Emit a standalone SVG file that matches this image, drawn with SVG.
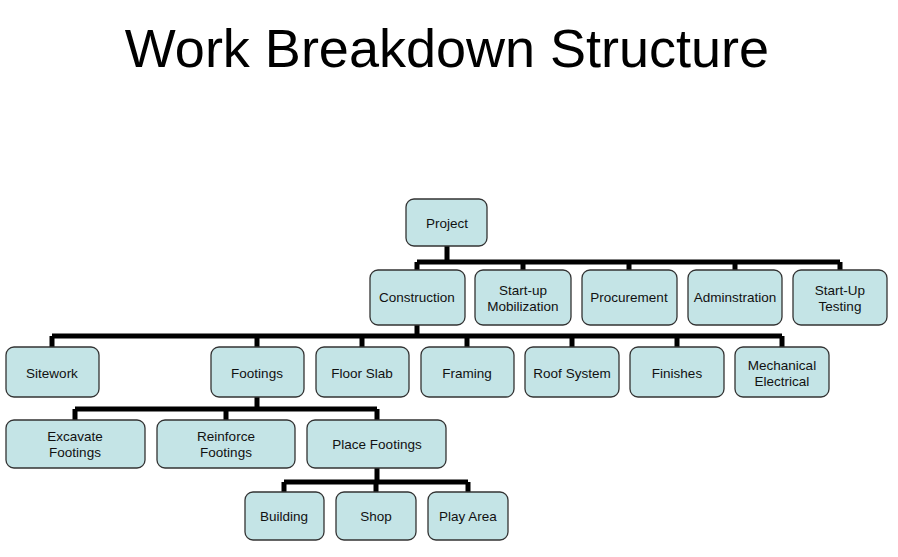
<svg xmlns="http://www.w3.org/2000/svg" width="898" height="557" viewBox="0 0 898 557">
<style>
.n rect{fill:#c4e4e6;stroke:#333;stroke-width:1.3}
.n text{font-family:"Liberation Sans",Arial,sans-serif;font-size:13.5px;fill:#111;text-anchor:middle}
.c{stroke:#000;stroke-width:5;fill:none}
</style>
<rect width="898" height="557" fill="#fff"/>
<text x="447" y="67" font-family="Liberation Sans,Arial,sans-serif" font-size="54" text-anchor="middle" fill="#000">Work Breakdown Structure</text>
<g id="connectors">
<path class="c" d="M447 246V262M417 262H840M417 262V270M523 262V270M629 262V270M735 262V270M840 262V270"/>
<path class="c" d="M417 325V336M52 336H782M52 336V347M257 336V347M362 336V347M467 336V347M572 336V347M677 336V347M782 336V347"/>
<path class="c" d="M257 397V409M75 409H377M75 409V420M226 409V420M377 409V420"/>
<path class="c" d="M377 468V482M284 482H468M284 482V492M376 482V492M468 482V492"/>
</g>
<g id="project" class="n"><rect x="406" y="199" width="81" height="47" rx="8"/><text x="447" y="228">Project</text></g>
<g id="construction" class="n"><rect x="370" y="270" width="95" height="55" rx="8"/><text x="417" y="302">Construction</text></g>
<g id="startup" class="n"><rect x="475" y="270" width="96" height="55" rx="8"/><text x="523" y="295">Start-up</text><text x="523" y="311">Mobilization</text></g>
<g id="procurement" class="n"><rect x="582" y="270" width="95" height="55" rx="8"/><text x="629" y="302">Procurement</text></g>
<g id="admin" class="n"><rect x="688" y="270" width="94" height="55" rx="8"/><text x="735" y="302">Adminstration</text></g>
<g id="testing" class="n"><rect x="793" y="270" width="94" height="55" rx="8"/><text x="840" y="295">Start-Up</text><text x="840" y="311">Testing</text></g>
<g id="sitework" class="n"><rect x="6" y="347" width="93" height="50" rx="8"/><text x="52" y="378">Sitework</text></g>
<g id="footings" class="n"><rect x="211" y="347" width="93" height="50" rx="8"/><text x="257" y="378">Footings</text></g>
<g id="floorslab" class="n"><rect x="316" y="347" width="93" height="50" rx="8"/><text x="362" y="378">Floor Slab</text></g>
<g id="framing" class="n"><rect x="421" y="347" width="93" height="50" rx="8"/><text x="467" y="378">Framing</text></g>
<g id="roof" class="n"><rect x="525" y="347" width="94" height="50" rx="8"/><text x="572" y="378">Roof System</text></g>
<g id="finishes" class="n"><rect x="630" y="347" width="94" height="50" rx="8"/><text x="677" y="378">Finishes</text></g>
<g id="mech" class="n"><rect x="735" y="347" width="94" height="50" rx="8"/><text x="782" y="370">Mechanical</text><text x="782" y="386">Electrical</text></g>
<g id="excavate" class="n"><rect x="6" y="420" width="139" height="48" rx="8"/><text x="75" y="441">Excavate</text><text x="75" y="457">Footings</text></g>
<g id="reinforce" class="n"><rect x="157" y="420" width="138" height="48" rx="8"/><text x="226" y="441">Reinforce</text><text x="226" y="457">Footings</text></g>
<g id="place" class="n"><rect x="307" y="420" width="139" height="48" rx="8"/><text x="377" y="449">Place Footings</text></g>
<g id="building" class="n"><rect x="245" y="492" width="79" height="48" rx="8"/><text x="284" y="521">Building</text></g>
<g id="shop" class="n"><rect x="336" y="492" width="80" height="48" rx="8"/><text x="376" y="521">Shop</text></g>
<g id="play" class="n"><rect x="428" y="492" width="80" height="48" rx="8"/><text x="468" y="521">Play Area</text></g>
</svg>
